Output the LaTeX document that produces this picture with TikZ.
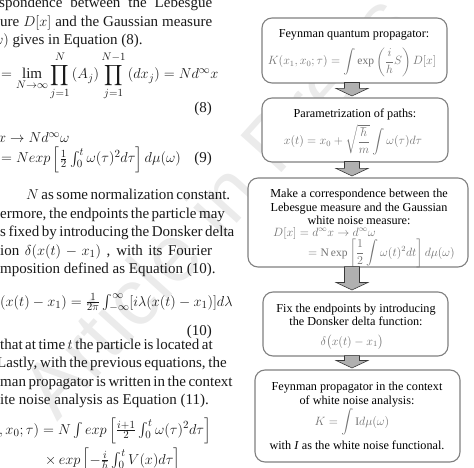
\documentclass[tikz,border=0pt]{standalone}
\usepackage{amsmath}
\usepackage{fontspec}
\setmainfont{Liberation Serif}
\newfontfamily\wmfont{Liberation Sans}
\usetikzlibrary{calc}
\definecolor{formula}{gray}{0.45}
\definecolor{boxline}{gray}{0.5}
\definecolor{txt}{gray}{0.1}
\newcommand\flowarrow[2]{%
  \draw[barrow] let \p0=(ax), \p1=(#1.south), \p2=(#2.north) in
    (\x0-7.5pt,\y1+1pt) -- (\x0-7.5pt,\y2+9pt) -- (\x0-16pt,\y2+9pt) --
    (\x0,\y2+1.5pt) -- (\x0+16pt,\y2+9pt) -- (\x0+7.5pt,\y2+9pt) --
    (\x0+7.5pt,\y1+1pt) -- cycle;}
\begin{document}
\begin{tikzpicture}[x=1pt,y=-1pt,
  ltxt/.style={anchor=base west, inner sep=0pt, text=txt, font=\fontsize{15}{18}\selectfont},
  rtxt/.style={anchor=base east, inner sep=0pt, text=txt, font=\fontsize{15}{18}\selectfont},
  flowbox/.style={draw=boxline, line width=1.1pt, rounded corners=10pt, fill=white, inner sep=0pt},
  btitle/.style={inner sep=0pt, text=black, font=\fontsize{12.2}{13.5}\selectfont, align=center},
  bform/.style={inner sep=0pt, text=formula, font=\fontsize{11.5}{13}\selectfont},
  barrow/.style={fill=gray!62, draw=gray!45!black, line width=0.6pt}
]
\useasboundingbox (0,0) rectangle (474,468);
\begin{scope}
\clip (0,0) rectangle (474,468);
\node[rotate=48, text=black!8, font=\wmfont\fontsize{80}{80}\selectfont] (wm) at (215,205) {Article in Press};
% left column text
\node[ltxt] (l1) at (-1,8) {\hbox to 213pt{spondence between the Lebesgue}};
\node[ltxt] (l2) at (0,26.5) {\hbox to 212pt{ure $D[x]$ and the Gaussian measure}};
\node[ltxt] (l3) at (-6,45) {$\omega)$ gives in Equation (8).};
\node[ltxt] (e8) at (1,79) {$\displaystyle = \lim_{N\to\infty}\prod_{j=1}^{N}\left(A_j\right)\prod_{j=1}^{N-1}\left(dx_j\right) = Nd^{\infty}x$};
\node[rtxt] (n8) at (212,113) {(8)};
\node[ltxt] (l4) at (-2,143) {$x\to Nd^{\infty}\omega$};
\node[ltxt] (e9) at (1,163) {$= N exp\left[\frac{1}{2}\int_0^t \omega(\tau)^2 d\tau\right] d\mu(\omega)$};
\node[rtxt] (n9) at (212,163) {(9)};
\node[ltxt] (l5) at (26,200) {\hbox to 186pt{$N$ as some normalization constant.}};
\node[ltxt] (l6) at (0,218) {\hbox to 212pt{ermore, the endpoints the particle may}};
\node[ltxt] (l7) at (0,236.5) {\hbox to 212pt{s fixed by introducing the Donsker delta}};
\node[ltxt] (l8) at (0,255) {\hbox to 212pt{ion $\delta(x(t)-x_1)$ , with its Fourier}};
\node[ltxt] (l9) at (0,273.5) {mposition defined as Equation (10).};
\node[ltxt] (e10) at (0,306) {$(x(t)-x_1) = \frac{1}{2\pi}\int_{-\infty}^{\infty}[i\lambda(x(t)-x_1)]d\lambda$};
\node[rtxt] (n10) at (212,335) {(10)};
\node[ltxt] (l10) at (0,349) {\hbox to 212pt{that at time $t$ the particle is located at}};
\node[ltxt] (l11) at (-3,367.5) {\hbox to 215pt{Lastly, with the previous equations, the}};
\node[ltxt] (l12) at (0,386) {\hbox to 212pt{man propagator is written in the context}};
\node[ltxt] (l13) at (0,404.5) {ite noise analysis as Equation (11).};
\node[ltxt] (e11a) at (-1,434) {$,x_0;\tau) = N\int exp\left[\frac{i+1}{2}\int_0^t\omega(\tau)^2 d\tau\right]$};
\node[ltxt] (e11b) at (45,464) {$\times\, exp\left[-\frac{i}{\hbar}\int_0^t V(x)d\tau\right]$};
\end{scope}
% flowchart
\coordinate (ax) at (352,0);
\node[flowbox, minimum width=185, minimum height=65] (b1) at (354.5,50.5) {};
\node[flowbox, minimum width=186, minimum height=64] (b2) at (355,130) {};
\node[flowbox, minimum width=220, minimum height=89] (b3) at (358,222.5) {};
\node[flowbox, minimum width=185, minimum height=64] (b4) at (355.5,324) {};
\node[flowbox, minimum width=205, minimum height=92] (b5) at (357.5,416) {};
\node[btitle] (t1a) at (354,35) {Feynman quantum propagator:};
\node[bform] (t1b) at (352,62) {$\displaystyle K(x_1,x_0;\tau)=\int\exp\left(\frac{i}{h}S\right)D[x]$};
\node[btitle] (t2a) at (355,115) {Parametrization of paths:};
\node[bform] (t2b) at (353,140) {$\displaystyle x(t)=x_0+\sqrt{\frac{\hbar}{m}}\int\omega(\tau)d\tau$};
\node[btitle] (t3a) at (359,207) {Make a correspondence between the\\Lebesgue measure and the Gaussian\\white noise measure:};
\node[bform, anchor=west] (t3b) at (273,233) {$D[x]=d^{\infty}x\to d^{\infty}\omega$};
\node[bform, anchor=west] (t3c) at (308,253) {$\displaystyle =\mathrm{N}\exp\left[\frac{1}{2}\int\omega(t)^2dt\right]d\mu(\omega)$};
\node[btitle] (t4a) at (356,315) {Fix the endpoints by introducing\\the Donsker delta function:};
\node[bform] (t4b) at (352,342) {$\delta\big(x(t)-x_1\big)$};
\node[btitle] (t5a) at (357,394.5) {Feynman propagator in the context\\of white noise analysis:};
\node[bform] (t5b) at (352,422) {$\displaystyle K=\int\mathrm{I}d\mu(\omega)$};
\node[btitle] (t5c) at (357,445) {with \textit{I} as the white noise functional.};
\flowarrow{b1}{b2}
\flowarrow{b2}{b3}
\flowarrow{b3}{b4}
\flowarrow{b4}{b5}
\end{tikzpicture}
\end{document}
